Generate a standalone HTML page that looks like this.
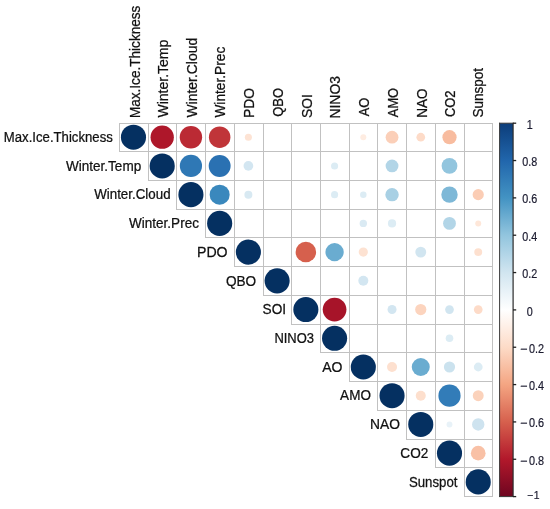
<!DOCTYPE html><html><head><meta charset="utf-8"><title>corrplot</title><style>html,body{margin:0;padding:0;background:#fff}svg{display:block}</style></head><body><svg width="550" height="509" viewBox="0 0 550 509" font-family="Liberation Sans, sans-serif" font-size="14.3" fill="#111">
<path d="M119.0 123.5H493.0M119.5 123.0V152.0M119.0 151.5H493.0M148.5 123.0V181.0M148.0 180.5H493.0M176.5 123.0V210.0M176.0 209.5H493.0M205.5 123.0V238.0M205.0 237.5H493.0M234.5 123.0V267.0M234.0 266.5H493.0M263.5 123.0V296.0M263.0 295.5H493.0M291.5 123.0V325.0M291.0 324.5H493.0M320.5 123.0V353.0M320.0 352.5H493.0M349.5 123.0V382.0M349.0 381.5H493.0M377.5 123.0V411.0M377.0 410.5H493.0M406.5 123.0V440.0M406.0 439.5H493.0M435.5 123.0V468.0M435.0 467.5H493.0M464.5 123.0V497.0M464.0 496.5H493.0M492.5 123.0V497.0" fill="none" stroke="#c1c1c1" stroke-width="1"/>
<circle cx="133.47" cy="137.21" r="12.55" fill="#053061"/>
<circle cx="162.20" cy="137.21" r="11.65" fill="#ae172a"/>
<circle cx="190.93" cy="137.21" r="11.20" fill="#bb2a34"/>
<circle cx="219.66" cy="137.21" r="10.75" fill="#c03539"/>
<circle cx="248.39" cy="137.21" r="3.55" fill="#fde3d4"/>
<circle cx="363.31" cy="137.21" r="3.00" fill="#feece1"/>
<circle cx="392.04" cy="137.21" r="6.40" fill="#fbcfb8"/>
<circle cx="420.77" cy="137.21" r="4.35" fill="#fddbc8"/>
<circle cx="449.50" cy="137.21" r="7.10" fill="#f8bc9f"/>
<circle cx="162.20" cy="165.93" r="12.55" fill="#053061"/>
<circle cx="190.93" cy="165.93" r="11.10" fill="#2f78b5"/>
<circle cx="219.66" cy="165.93" r="10.95" fill="#2a71b2"/>
<circle cx="248.39" cy="165.93" r="4.85" fill="#d3e6f1"/>
<circle cx="334.58" cy="165.93" r="3.55" fill="#dcecf4"/>
<circle cx="392.04" cy="165.93" r="6.40" fill="#b2d5e7"/>
<circle cx="449.50" cy="165.93" r="7.90" fill="#92c5de"/>
<circle cx="190.93" cy="194.66" r="12.55" fill="#053061"/>
<circle cx="219.66" cy="194.66" r="10.00" fill="#3a88bd"/>
<circle cx="248.39" cy="194.66" r="4.00" fill="#d8e9f2"/>
<circle cx="334.58" cy="194.66" r="3.55" fill="#dcecf4"/>
<circle cx="363.31" cy="194.66" r="3.25" fill="#dcecf4"/>
<circle cx="392.04" cy="194.66" r="6.70" fill="#a8d0e4"/>
<circle cx="449.50" cy="194.66" r="8.20" fill="#7eb8d7"/>
<circle cx="478.23" cy="194.66" r="5.60" fill="#fbcdb5"/>
<circle cx="219.66" cy="223.38" r="12.55" fill="#053061"/>
<circle cx="363.31" cy="223.38" r="3.70" fill="#daeaf3"/>
<circle cx="392.04" cy="223.38" r="4.10" fill="#dcecf4"/>
<circle cx="449.50" cy="223.38" r="6.40" fill="#b2d5e7"/>
<circle cx="478.23" cy="223.38" r="3.00" fill="#fee7d9"/>
<circle cx="248.39" cy="252.10" r="12.55" fill="#053061"/>
<circle cx="305.85" cy="252.10" r="10.25" fill="#d6604d"/>
<circle cx="334.58" cy="252.10" r="9.15" fill="#6aacd0"/>
<circle cx="363.31" cy="252.10" r="4.60" fill="#fde2d2"/>
<circle cx="420.77" cy="252.10" r="5.45" fill="#d1e5f0"/>
<circle cx="478.23" cy="252.10" r="3.95" fill="#fde0cf"/>
<circle cx="277.12" cy="280.83" r="12.55" fill="#053061"/>
<circle cx="363.31" cy="280.83" r="5.00" fill="#d3e6f1"/>
<circle cx="305.85" cy="309.55" r="12.55" fill="#053061"/>
<circle cx="334.58" cy="309.55" r="11.85" fill="#a71429"/>
<circle cx="392.04" cy="309.55" r="4.50" fill="#d3e6f1"/>
<circle cx="420.77" cy="309.55" r="5.60" fill="#fcd4be"/>
<circle cx="449.50" cy="309.55" r="4.35" fill="#d1e5f0"/>
<circle cx="478.23" cy="309.55" r="4.35" fill="#fddbc8"/>
<circle cx="334.58" cy="338.27" r="12.55" fill="#053061"/>
<circle cx="449.50" cy="338.27" r="3.80" fill="#dcecf4"/>
<circle cx="363.31" cy="367.00" r="12.55" fill="#053061"/>
<circle cx="392.04" cy="367.00" r="5.00" fill="#fde0cf"/>
<circle cx="420.77" cy="367.00" r="9.00" fill="#6aacd0"/>
<circle cx="449.50" cy="367.00" r="5.60" fill="#cbe2ee"/>
<circle cx="478.23" cy="367.00" r="4.40" fill="#dcecf4"/>
<circle cx="392.04" cy="395.72" r="12.55" fill="#053061"/>
<circle cx="420.77" cy="395.72" r="5.00" fill="#fddfcd"/>
<circle cx="449.50" cy="395.72" r="11.10" fill="#327cb8"/>
<circle cx="478.23" cy="395.72" r="5.45" fill="#fbd2bb"/>
<circle cx="420.77" cy="424.44" r="12.55" fill="#053061"/>
<circle cx="449.50" cy="424.44" r="2.95" fill="#e8f2f8"/>
<circle cx="478.23" cy="424.44" r="6.20" fill="#cee3ef"/>
<circle cx="449.50" cy="453.17" r="12.55" fill="#053061"/>
<circle cx="478.23" cy="453.17" r="7.35" fill="#f9c1a6"/>
<circle cx="478.23" cy="481.89" r="12.55" fill="#053061"/>
<g stroke="#111" stroke-width="0.25">
<text transform="translate(112.80,141.96) scale(0.9210,1)" text-anchor="end">Max.Ice.Thickness</text>
<text transform="translate(141.18,170.68) scale(0.9470,1)" text-anchor="end">Winter.Temp</text>
<text transform="translate(170.59,199.41) scale(0.9340,1)" text-anchor="end">Winter.Cloud</text>
<text transform="translate(198.91,228.13) scale(0.9460,1)" text-anchor="end">Winter.Prec</text>
<text transform="translate(227.63,256.85) scale(0.9910,1)" text-anchor="end">PDO</text>
<text transform="translate(256.16,285.58) scale(0.9530,1)" text-anchor="end">QBO</text>
<text transform="translate(286.06,314.30) scale(0.9560,1)" text-anchor="end">SOI</text>
<text transform="translate(314.05,343.02) scale(0.9080,1)" text-anchor="end">NINO3</text>
<text transform="translate(342.52,371.75) scale(0.9820,1)" text-anchor="end">AO</text>
<text transform="translate(370.92,400.47) scale(0.9460,1)" text-anchor="end">AMO</text>
<text transform="translate(399.91,429.19) scale(0.9670,1)" text-anchor="end">NAO</text>
<text transform="translate(428.31,457.92) scale(0.9510,1)" text-anchor="end">CO2</text>
<text transform="translate(457.56,486.64) scale(0.9280,1)" text-anchor="end">Sunspot</text>
<text transform="translate(140.27,118.11) rotate(-90) scale(0.9510,1)">Max.Ice.Thickness</text>
<text transform="translate(168.00,117.58) rotate(-90) scale(0.9810,1)">Winter.Temp</text>
<text transform="translate(196.73,117.58) rotate(-90) scale(0.9760,1)">Winter.Cloud</text>
<text transform="translate(225.46,117.58) rotate(-90) scale(0.9590,1)">Winter.Prec</text>
<text transform="translate(254.19,117.95) rotate(-90) scale(0.9710,1)">PDO</text>
<text transform="translate(282.92,116.69) rotate(-90) scale(0.9020,1)">QBO</text>
<text transform="translate(311.65,117.99) rotate(-90) scale(0.9690,1)">SOI</text>
<text transform="translate(340.38,118.58) rotate(-90) scale(0.9750,1)">NINO3</text>
<text transform="translate(369.11,116.33) rotate(-90) scale(0.9010,1)">AO</text>
<text transform="translate(397.84,117.20) rotate(-90) scale(0.9010,1)">AMO</text>
<text transform="translate(426.57,117.77) rotate(-90) scale(0.9430,1)">NAO</text>
<text transform="translate(455.30,117.07) rotate(-90) scale(0.9040,1)">CO2</text>
<text transform="translate(483.03,117.62) rotate(-90) scale(0.9450,1)">Sunspot</text>
</g>
<defs><linearGradient id="cb" x1="0" y1="1" x2="0" y2="0"><stop offset="0%" stop-color="#6e0520"/><stop offset="10%" stop-color="#B2182B"/><stop offset="20%" stop-color="#D6604D"/><stop offset="30%" stop-color="#F4A582"/><stop offset="40%" stop-color="#FDDBC7"/><stop offset="50%" stop-color="#FFFFFF"/><stop offset="60%" stop-color="#D1E5F0"/><stop offset="70%" stop-color="#92C5DE"/><stop offset="80%" stop-color="#4393C3"/><stop offset="90%" stop-color="#2166AC"/><stop offset="100%" stop-color="#0c3d7a"/></linearGradient></defs>
<rect x="499.5" y="123.2" width="13.50" height="373.40" fill="url(#cb)"/>
<path d="M499.60 122.80V497.00M499.10 123.2H513.50M499.10 496.6H513.50" stroke="#3a3a3a" stroke-width="1" fill="none"/>
<path d="M513.10 122.80V497.00" stroke="#2a2a2a" stroke-width="1.2" fill="none"/>
<line x1="513.0" y1="496.60" x2="516.2" y2="496.60" stroke="#222" stroke-width="1.3"/>
<text transform="translate(527.3,499.40) scale(0.93,1)" font-size="11.2" fill="#1b1b2f" stroke="#1b1b2f" stroke-width="0.2">−<tspan dx="0.3">1</tspan></text>
<line x1="513.0" y1="459.26" x2="516.2" y2="459.26" stroke="#222" stroke-width="1.3"/>
<text transform="translate(519.9,464.66) scale(1.05,1)" font-size="12" fill="#1b1b2f" stroke="#1b1b2f" stroke-width="0.2">−<tspan dx="1.6" textLength="14.4" lengthAdjust="spacingAndGlyphs">0.8</tspan></text>
<line x1="513.0" y1="421.92" x2="516.2" y2="421.92" stroke="#222" stroke-width="1.3"/>
<text transform="translate(519.9,427.32) scale(1.05,1)" font-size="12" fill="#1b1b2f" stroke="#1b1b2f" stroke-width="0.2">−<tspan dx="1.6" textLength="14.4" lengthAdjust="spacingAndGlyphs">0.6</tspan></text>
<line x1="513.0" y1="384.58" x2="516.2" y2="384.58" stroke="#222" stroke-width="1.3"/>
<text transform="translate(519.9,389.98) scale(1.05,1)" font-size="12" fill="#1b1b2f" stroke="#1b1b2f" stroke-width="0.2">−<tspan dx="1.6" textLength="14.4" lengthAdjust="spacingAndGlyphs">0.4</tspan></text>
<line x1="513.0" y1="347.24" x2="516.2" y2="347.24" stroke="#222" stroke-width="1.3"/>
<text transform="translate(519.9,352.64) scale(1.05,1)" font-size="12" fill="#1b1b2f" stroke="#1b1b2f" stroke-width="0.2">−<tspan dx="1.6" textLength="14.4" lengthAdjust="spacingAndGlyphs">0.2</tspan></text>
<line x1="513.0" y1="309.90" x2="516.2" y2="309.90" stroke="#222" stroke-width="1.3"/>
<text transform="translate(529.7,315.50) scale(0.885,1)" text-anchor="middle" font-size="12.2" fill="#1b1b2f" stroke="#1b1b2f" stroke-width="0.2">0</text>
<line x1="513.0" y1="272.56" x2="516.2" y2="272.56" stroke="#222" stroke-width="1.3"/>
<text transform="translate(529.7,278.16) scale(0.885,1)" text-anchor="middle" font-size="12.2" fill="#1b1b2f" stroke="#1b1b2f" stroke-width="0.2">0.2</text>
<line x1="513.0" y1="235.22" x2="516.2" y2="235.22" stroke="#222" stroke-width="1.3"/>
<text transform="translate(529.7,240.82) scale(0.885,1)" text-anchor="middle" font-size="12.2" fill="#1b1b2f" stroke="#1b1b2f" stroke-width="0.2">0.4</text>
<line x1="513.0" y1="197.88" x2="516.2" y2="197.88" stroke="#222" stroke-width="1.3"/>
<text transform="translate(529.7,203.48) scale(0.885,1)" text-anchor="middle" font-size="12.2" fill="#1b1b2f" stroke="#1b1b2f" stroke-width="0.2">0.6</text>
<line x1="513.0" y1="160.54" x2="516.2" y2="160.54" stroke="#222" stroke-width="1.3"/>
<text transform="translate(529.7,166.14) scale(0.885,1)" text-anchor="middle" font-size="12.2" fill="#1b1b2f" stroke="#1b1b2f" stroke-width="0.2">0.8</text>
<line x1="513.0" y1="123.20" x2="516.2" y2="123.20" stroke="#222" stroke-width="1.3"/>
<text transform="translate(529.7,128.80) scale(0.885,1)" text-anchor="middle" font-size="12.2" fill="#1b1b2f" stroke="#1b1b2f" stroke-width="0.2">1</text>
</svg></body></html>
